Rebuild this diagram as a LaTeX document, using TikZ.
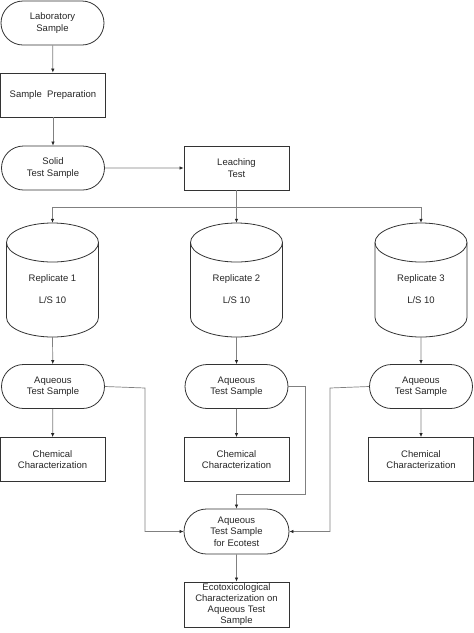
\documentclass[tikz,border=0pt]{standalone}
\usepackage{fontspec}
\setmainfont{Liberation Sans}
\usetikzlibrary{shapes.misc,arrows.meta}
\begin{document}
\begin{tikzpicture}[x=1pt,y=-1pt,
 every node/.style={font=\fontsize{9.5}{11.5}\selectfont, align=center, inner sep=0pt, text=black!85},
 term/.style={draw=black!80, line width=0.8pt, rounded rectangle, minimum width=103pt, minimum height=44pt},
 box/.style={draw=black!80, line width=0.8pt, rectangle, minimum width=105pt, minimum height=44pt},
 cylshape/.style={draw=black!80, line width=0.8pt},
 holder/.style={minimum width=92pt, minimum height=114pt},
 conn/.style={draw=black!50, line width=0.7pt},
 arr/.style={conn, -{Latex[length=4pt,width=3.5pt,color=black!85]}},
]
\useasboundingbox (0,0) rectangle (474,633);

\node[term] (lab) at (52.5,23) {Laboratory\\Sample};
\node[box] (prep) at (53,95) {Sample\ \ Preparation};
\node[term] (solid) at (53,168) {Solid\\Test Sample};
\node[box] (leach) at (236.5,168) {Leaching\\Test};

% cylinders
\node[holder] (rep1) at (52.5,280) {};
\node[holder] (rep2) at (236.5,280) {};
\node[holder] (rep3) at (421,280) {};
\draw[cylshape] (6.5,242.5) -- (6.5,317.5) arc[start angle=180,end angle=0,x radius=46,y radius=19.5] -- (98.5,242.5);
\draw[cylshape] (52.5,242.5) ellipse [x radius=46, y radius=19.5];
\draw[cylshape] (190.5,242.5) -- (190.5,317.5) arc[start angle=180,end angle=0,x radius=46,y radius=19.5] -- (282.5,242.5);
\draw[cylshape] (236.5,242.5) ellipse [x radius=46, y radius=19.5];
\draw[cylshape] (375,242.5) -- (375,317.5) arc[start angle=180,end angle=0,x radius=46,y radius=19.5] -- (467,242.5);
\draw[cylshape] (421,242.5) ellipse [x radius=46, y radius=19.5];
\node (r1t) at (52.5,289) {Replicate 1\\[10pt]L/S 10};
\node (r2t) at (236.5,289) {Replicate 2\\[10pt]L/S 10};
\node (r3t) at (421,289) {Replicate 3\\[10pt]L/S 10};

\node[term] (aq1) at (53,386.5) {Aqueous\\Test Sample};
\node[term] (aq2) at (236.5,386.5) {Aqueous\\Test Sample};
\node[term] (aq3) at (421,386.5) {Aqueous\\Test Sample};

\node[box] (ch1) at (52.5,459.5) {Chemical\\Characterization};
\node[box] (ch2) at (236.5,459.5) {Chemical\\Characterization};
\node[box] (ch3) at (421,459.5) {Chemical\\Characterization};

\node[term, minimum width=105pt, minimum height=45pt] (eco) at (236.5,531.5) {Aqueous\\Test Sample\\for Ecotest};
\node[box, minimum height=45pt, font=\fontsize{9.5}{11}\selectfont] (ecotox) at (236.5,604.5) {Ecotoxicological\\Characterization on\\Aqueous Test\\Sample};

% connectors
\draw[arr] (lab) -- (prep);
\draw[arr] (prep) -- (solid);
\draw[arr] (solid) -- (leach);
\coordinate (split) at (236.5,207);
\draw[arr] (leach) -- (rep2.north);
\draw[arr] (split) -| (rep1.north);
\draw[arr] (split) -| (rep3.north);
\draw[arr] (rep1.south) -- (aq1);
\draw[arr] (rep2.south) -- (aq2);
\draw[arr] (rep3.south) -- (aq3);
\draw[arr] (aq1) -- (ch1);
\draw[arr] (aq2) -- (ch2);
\draw[arr] (aq3) -- (ch3);
\coordinate (k1) at (145,388);
\coordinate (k2) at (305,494);
\coordinate (k3) at (330,388);
\draw[arr] (aq1.east) -- (k1) |- (eco.west);
\draw[arr] (aq2.east) -| (k2) -| (eco.north);
\draw[arr] (aq3.west) -- (k3) |- (eco.east);
\draw[arr] (eco) -- (ecotox);
\end{tikzpicture}
\end{document}
